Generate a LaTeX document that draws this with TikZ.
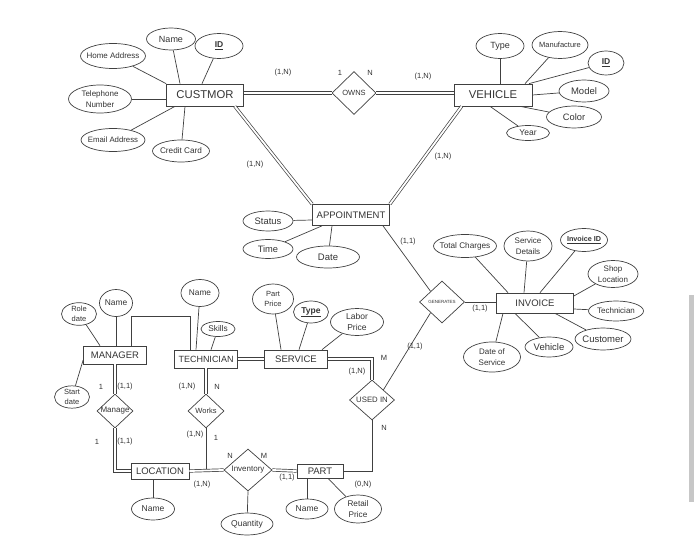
\documentclass[tikz,border=0pt]{standalone}
\usepackage{fontspec}
\setmainfont{Liberation Sans}
\usetikzlibrary{shapes.geometric}
\colorlet{ln}{black!75}
\begin{document}
\begin{tikzpicture}[x=1pt,y=-1pt,line width=0.7pt,
  fs/.style={font=\fontsize{#1}{10.5}\selectfont},
  sz/.style 2 args={minimum width=#1pt,minimum height=#2pt},
  ent/.style={draw=ln,rectangle,inner sep=0pt,text=black!80,fs=9.5},
  attr/.style={draw=ln,ellipse,inner xsep=-30pt,inner ysep=0pt,align=center,text=black!80,fs=8.5},
  rel/.style={draw=ln,diamond,inner xsep=-30pt,inner ysep=-6pt,text=black!80,fs=8},
  dbl/.style={draw=ln,double,double distance=1.8pt},
  card/.style={text=black!80,fs=7.5}]
\useasboundingbox (0,0) rectangle (700,553);
% entities
\node[ent,sz={77}{22},fs=11.3] (cust) at (205,95) {CUSTMOR};
\node[ent,sz={78}{22},fs=11.3] (veh) at (493,95) {VEHICLE};
\node[ent,sz={77}{21}] (appt) at (351,215) {APPOINTMENT};
\node[ent,sz={77}{20}] (inv) at (535,303) {INVOICE};
\node[ent,sz={63}{18}] (mgr) at (115,355) {MANAGER};
\node[ent,sz={63}{18},fs=9] (tech) at (206,359) {TECHNICIAN};
\node[ent,sz={63}{18}] (serv) at (296,359) {SERVICE};
\node[ent,sz={58}{16}] (loc) at (160,471) {LOCATION};
\node[ent,sz={46}{14}] (part) at (320,471) {PART};
% relationships
\node[rel,sz={44}{43},fs=7.5] (owns) at (354,93) {OWNS};
\node[rel,sz={45}{42},fs=4.5] (gen) at (442,302) {GENERATES};
\node[rel,sz={36}{34}] (manage) at (115,411) {Manage};
\node[rel,sz={36}{34},fs=7.5] (works) at (206,411) {Works};
\node[rel,sz={48}{42}] (invt) at (248,470) {Inventory};
\node[rel,sz={45}{40},fs=7.8] (used) at (372,400) {USED IN};
% attributes
\node[attr,sz={49}{22},fs=9] (cname) at (171,39) {Name};
\node[attr,sz={48}{25}] (cid) at (219,46) {\underline{\textbf{ID}}};
\node[attr,sz={65}{25},fs=8] (caddr) at (113,56) {Home Address};
\node[attr,sz={63}{28},fs=8] (ctel) at (100,99) {Telephone\\Number};
\node[attr,sz={64}{23},fs=7.8] (cmail) at (113,140) {Email Address};
\node[attr,sz={57}{22},fs=8.2] (ccard) at (181,151) {Credit Card};
\node[attr,sz={48}{25},fs=9] (vtype) at (500,46) {Type};
\node[attr,sz={56}{27},fs=7.5] (vmanu) at (560,45) {Manufacture};
\node[attr,sz={36}{24}] (vid) at (606,63) {\underline{\textbf{ID}}};
\node[attr,sz={50}{22},fs=9.5] (vmodel) at (584,91) {Model};
\node[attr,sz={55}{22},fs=9.3] (vcolor) at (574,117) {Color};
\node[attr,sz={43}{15}] (vyear) at (528,133) {Year};
\node[attr,sz={50}{20},fs=9.4] (astatus) at (268,221) {Status};
\node[attr,sz={50}{19},fs=9.3] (atime) at (268,249) {Time};
\node[attr,sz={63}{22},fs=9.5] (adate) at (328,257) {Date};
\node[attr,sz={63}{23},fs=8.2] (itotal) at (465,246) {Total Charges};
\node[attr,sz={48}{30},fs=8] (iserv) at (528,246) {Service\\Details};
\node[attr,sz={47}{23},fs=7.2] (iid) at (584,240) {\underline{\textbf{Invoice ID}}};
\node[attr,sz={50}{27},fs=8] (ishop) at (613,274) {Shop\\Location};
\node[attr,sz={55}{20},fs=8] (itech) at (616,311) {Technician};
\node[attr,sz={56}{22},fs=9.5] (icust) at (603,339) {Customer};
\node[attr,sz={48}{20},fs=9.5] (iveh) at (549,347) {Vehicle};
\node[attr,sz={57}{30},fs=8] (idate) at (492,357) {Date of\\Service};
\node[attr,sz={35}{22},fs=7.5] (mrole) at (79,314) {Role\\date};
\node[attr,sz={33}{27},fs=8.4] (mname) at (116,303) {Name};
\node[attr,sz={35}{20},fs=7.5] (mstart) at (72,397) {Start\\date};
\node[attr,sz={38}{27},fs=8.3] (tname) at (200,293) {Name};
\node[attr,sz={34}{15},fs=8.3] (tskill) at (218,329) {Skills};
\node[attr,sz={41}{30},fs=7.5] (spart) at (273,299) {Part\\Price};
\node[attr,sz={35}{22}] (stype) at (311,312) {\underline{\textbf{Type}}};
\node[attr,sz={53}{27}] (slabor) at (357,322) {Labor\\Price};
\node[attr,sz={43}{22}] (lname) at (153,509) {Name};
\node[attr,sz={52}{22}] (quant) at (247,524) {Quantity};
\node[attr,sz={42}{20}] (pname) at (307,509) {Name};
\node[attr,sz={47}{28},fs=8.2] (pprice) at (358,509) {Retail\\Price};
% attribute lines
\draw[ln] (cname) -- ([xshift=-25pt]cust.north);
\draw[ln] (cid) -- ([xshift=-3pt]cust.north);
\draw[ln] (caddr) -- (cust.north west);
\draw[ln] (ctel) -- (ctel -| cust.west);
\draw[ln] (cmail) -- ([xshift=-30pt]cust.south);
\draw[ln] (ccard) -- ([xshift=-20pt]cust.south);
\draw[ln] (vtype) -- (vtype |- veh.north);
\draw[ln] (vmanu) -- ([xshift=32pt]veh.north);
\draw[ln] (vid) -- ([xshift=36pt]veh.north);
\draw[ln] (vmodel) -- (veh.east);
\draw[ln] (vcolor) -- ([xshift=27pt]veh.south);
\draw[ln] (vyear) -- ([xshift=-3pt]veh.south);
\draw[ln] (astatus) -- ([yshift=-5pt]appt.west);
\draw[ln] (atime) -- ([xshift=-29pt]appt.south);
\draw[ln] (adate) -- ([xshift=-19pt]appt.south);
\draw[ln] (itotal) -- ([xshift=-27pt]inv.north);
\draw[ln] (iserv) -- ([xshift=-11pt]inv.north);
\draw[ln] (iid) -- ([xshift=5pt]inv.north);
\draw[ln] (ishop) -- ([yshift=7pt]inv.east);
\draw[ln] (itech) -- ([yshift=-6pt]inv.east);
\draw[ln] (icust) -- ([xshift=20pt]inv.south);
\draw[ln] (iveh) -- ([xshift=-20pt]inv.south);
\draw[ln] (idate) -- ([xshift=-32pt]inv.south);
\draw[ln] (mrole) -- ([xshift=-15pt]mgr.north);
\draw[ln] (mname) -- (mname |- mgr.north);
\draw[ln] (mstart) -- ([yshift=-5pt]mgr.west);
\draw[ln] (tname) -- ([xshift=-10pt]tech.north);
\draw[ln] (tskill) -- ([xshift=5pt]tech.north);
\draw[ln] (spart) -- ([xshift=-15pt]serv.north);
\draw[ln] (stype) -- ([xshift=3pt]serv.north);
\draw[ln] (slabor) -- ([xshift=26pt]serv.north);
\draw[ln] (lname) -- (lname |- loc.south);
\draw[ln] (quant) -- (invt.south);
\draw[ln] (pname) -- (pname |- part.south);
\draw[ln] (pprice) -- ([xshift=8pt]part.south);
% relationship lines
\draw[dbl] (owns.west -| cust.east) -- (owns.west);
\draw[dbl] (owns.east) -- (owns.east -| veh.west);
\draw[dbl] ([xshift=-9pt]cust.south east) -- (appt.north west);
\draw[dbl] ([xshift=8pt]veh.south west) -- (appt.north east);
\draw[ln] ([xshift=32pt]appt.south) -- (gen.north west);
\draw[ln] (gen.east) -- (gen.east -| inv.west);
\draw[ln] (used.north east) -- (gen.south west);
\draw[ln] ([xshift=16pt]mgr.north) -- ++(0,-29) -| ([xshift=-16pt]tech.north);
\draw[dbl] (tech.east) -- (serv.west);
\draw[dbl] (serv.east) -| (used.north);
\draw[ln] (part.east) -| (used.south);
\draw[dbl] (mgr.south) -- (manage.north);
\draw[dbl] (manage.south) |- (loc.west);
\draw[dbl] (tech.south) -- (works.north);
\draw[ln] (works.south) -- (works.south |- loc.east);
\draw[dbl] (loc.east) -- (invt.west);
\draw[dbl] (invt.east) -- (part.west);
% cardinalities
\foreach \p/\t [count=\i] in {{283,73}/{(1,N)},{340,73}/1,{370,73}/N,{423,77}/{(1,N)},
  {255,165}/{(1,N)},{443,157}/{(1,N)},{408,242}/{(1,1)},{480,309}/{(1,1)},{415,347}/{(1,1)},
  {101,387}/1,{125,387}/{(1,1)},{187,387}/{(1,N)},{217,387}/N,{97,442}/1,{125,442}/{(1,1)},
  {195,435}/{(1,N)},{216,438}/1,{202,485}/{(1,N)},{230,456}/N,{264,456}/M,{287,478}/{(1,1)},
  {363,485}/{(0,N)},{384,428}/N,{384,358}/M,{357,372}/{(1,N)}}
  \node[card] (k\i) at (\p) {\t};
\fill[black!22] (689,295) rectangle (694,502);
\end{tikzpicture}
\end{document}
